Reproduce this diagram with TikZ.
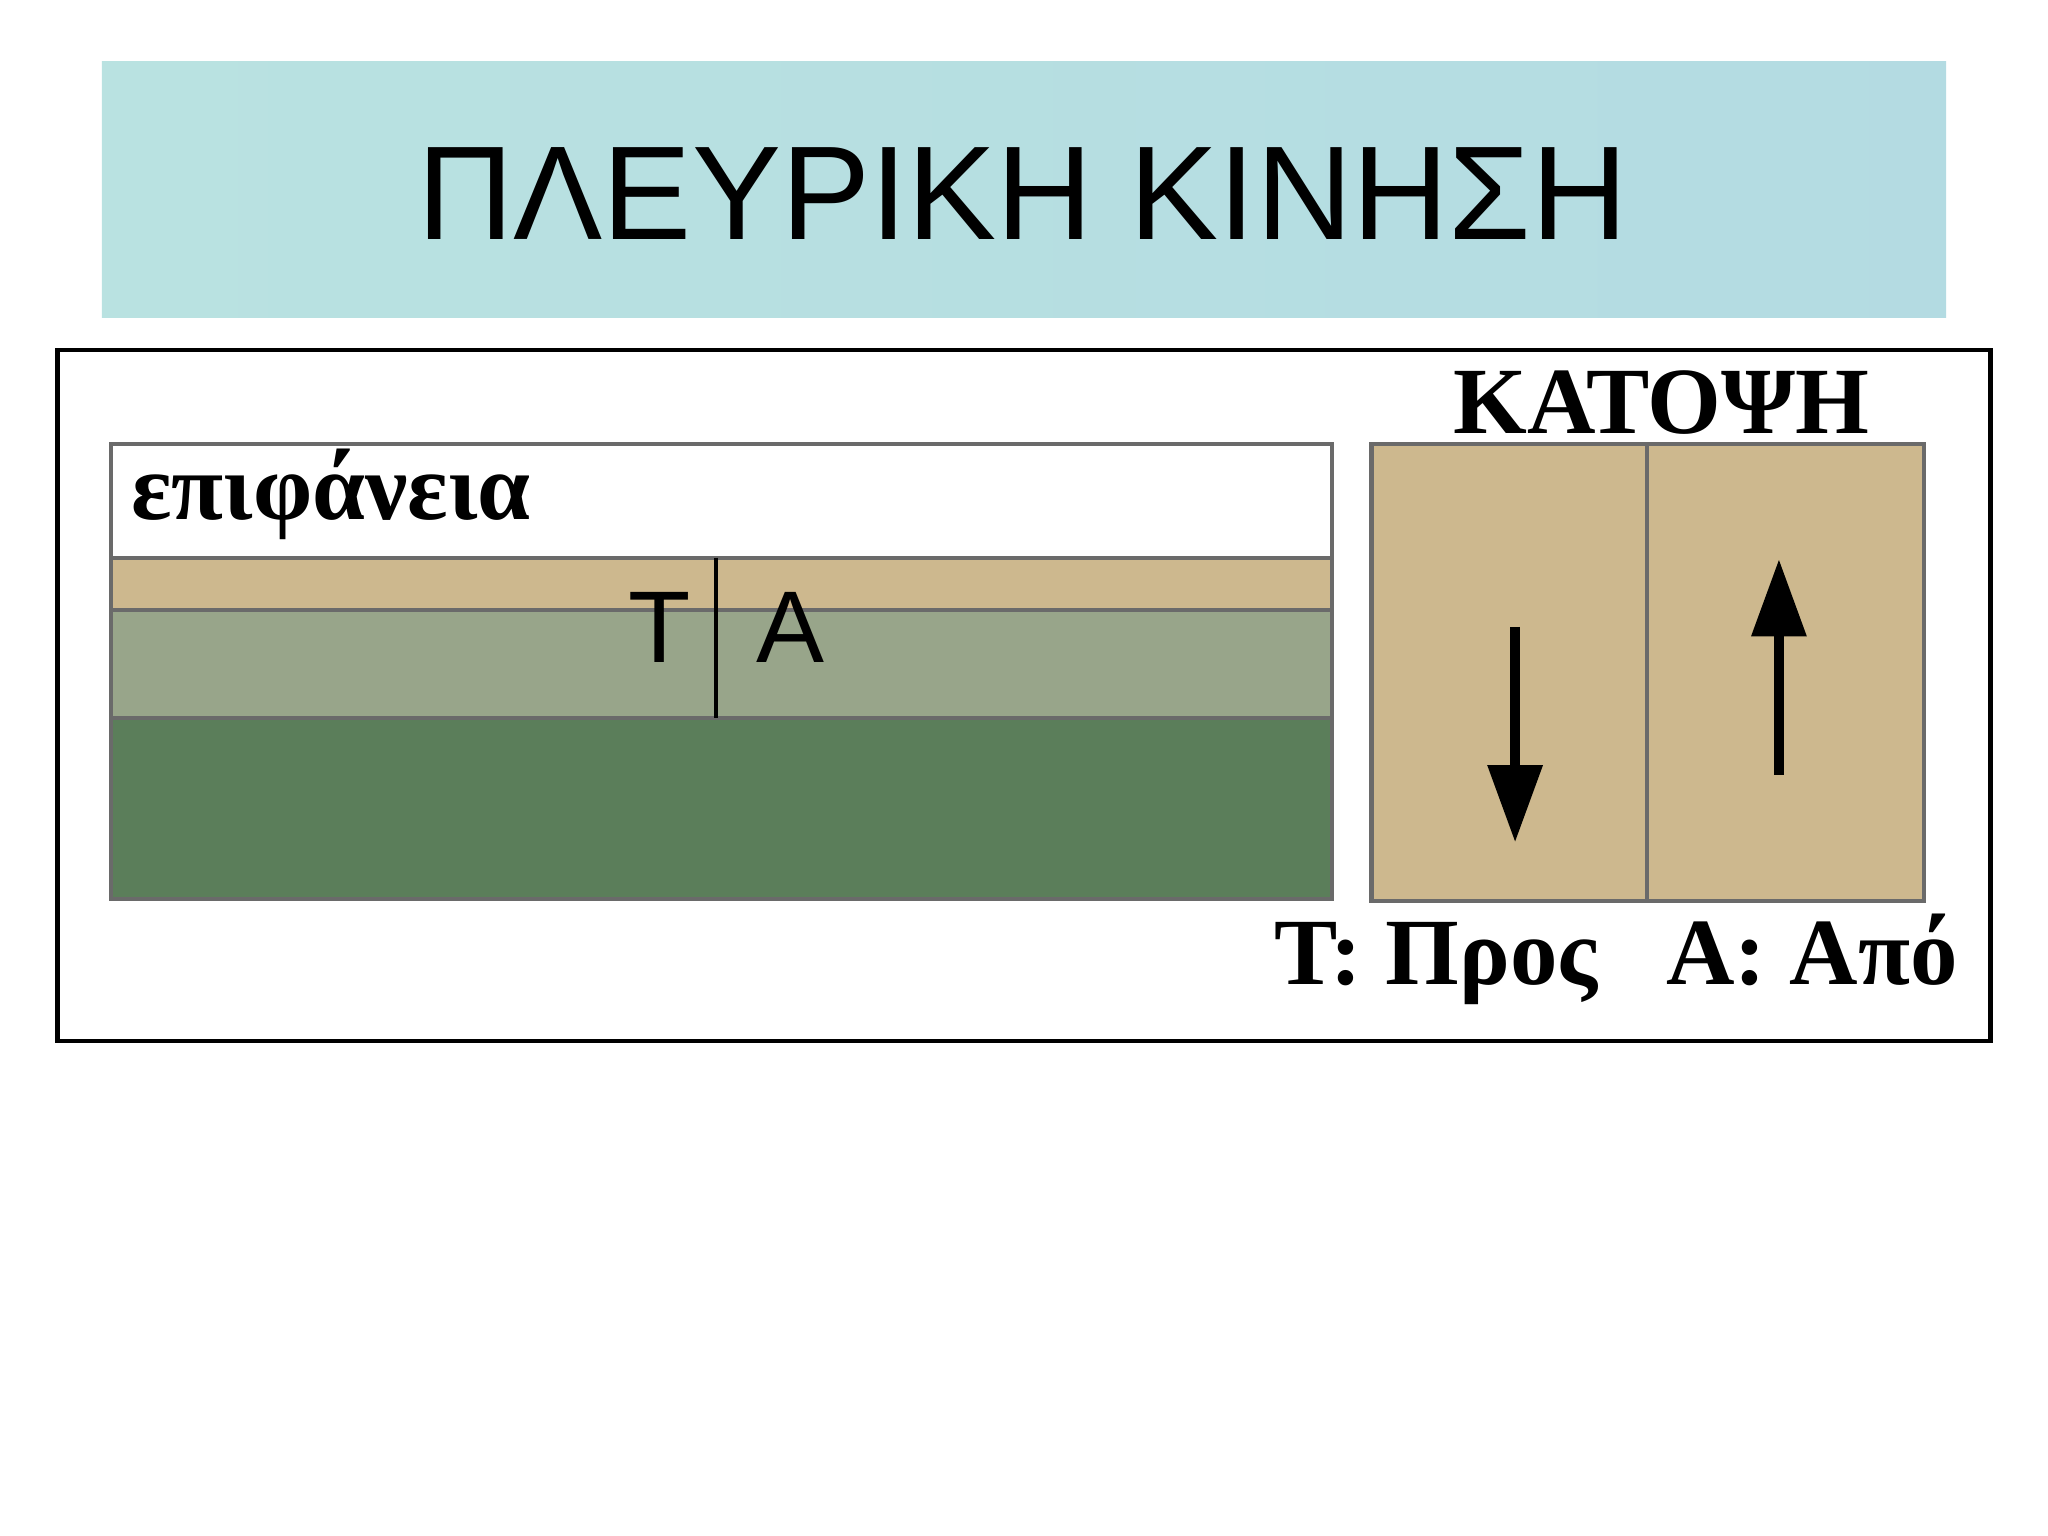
\documentclass[tikz,border=0pt]{standalone}
\usepackage{fontspec}
\setmainfont{Liberation Serif}
\newfontfamily\arialf{Liberation Sans}
\usetikzlibrary{arrows.meta}
\definecolor{band}{HTML}{B9E2E1}
\definecolor{tan}{HTML}{CDB88E}
\definecolor{sage}{HTML}{98A58A}
\definecolor{dgreen}{HTML}{5B7E5A}
\definecolor{edge}{HTML}{6A6A6A}
\begin{document}
\begin{tikzpicture}[x=0.013061cm,y=-0.013061cm,
  lay/.style={draw=edge,line width=1.2pt},
  arr/.style={line width=3pt,-{Triangle[length=22pt,width=15pt]}},
  lbl/.style={font=\bfseries\fontsize{27}{30}\selectfont,inner sep=0}]
\useasboundingbox (0,0) rectangle (1568,1176);
\fill[left color=band,right color=band!85!blue!20!band] (78,47) rectangle (1490,243);
\node[font=\arialf\fontsize{38}{44}\selectfont] (title) at (783,148) {ΠΛΕΥΡΙΚΗ ΚΙΝΗΣΗ};
\draw[line width=1.2pt] (44,268) rectangle (1524,797);
% cross-section
\draw[lay,fill=white] (85,340) rectangle (1020,427);
\draw[lay,fill=tan] (85,427) rectangle (1020,467);
\draw[lay,fill=sage] (85,467) rectangle (1020,550);
\draw[lay,fill=dgreen] (85,550) rectangle (1020,688);
\draw[line width=1pt] (548,427) -- (548,550);
\node[anchor=base west,lbl] (surf) at (100,398) {επιφάνεια};
\node[font=\arialf\fontsize{29}{32}\selectfont,anchor=base] (T) at (505,507) {Τ};
\node[font=\arialf\fontsize{29}{32}\selectfont,anchor=base] (A) at (605,507) {Α};
% plan view
\draw[lay,fill=tan] (1050,340) rectangle (1473,690);
\draw[lay] (1261,340) -- (1261,690);
\coordinate (d1) at (1160,480); \coordinate (d2) at (1160,645);
\coordinate (u1) at (1362,593); \coordinate (u2) at (1362,428);
\draw[arr] (d1) -- (d2);
\draw[arr] (u1) -- (u2);
\node[lbl,anchor=base] (kat) at (1272,332) {ΚΑΤΟΨΗ};
\node[lbl,anchor=base west] (pros) at (975,754) {Τ: Προς};
\node[lbl,anchor=base west] (apo) at (1275,754) {Α: Από};
\end{tikzpicture}
\end{document}
